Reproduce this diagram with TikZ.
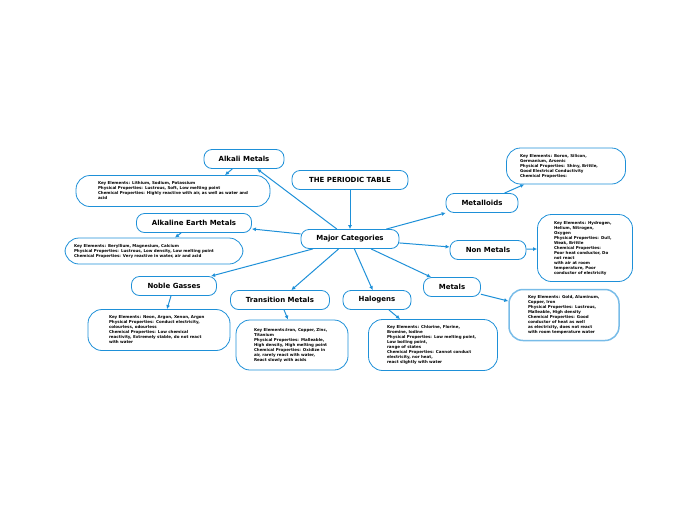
\documentclass[tikz,border=0pt]{standalone}
\usepackage{fontspec}
\setmainfont{DejaVu Sans}
\begin{document}
\begin{tikzpicture}[x=1pt,y=-1pt,
 cat/.style={draw=blue1,line width=0.8pt,rounded corners=8pt,fill=white,minimum height=19pt,font=\fontsize{7}{8}\selectfont\bfseries,inner sep=2pt},
 info/.style={draw=blue1,line width=0.8pt,rounded corners=14pt,fill=white,align=left,font=\fontsize{4}{5}\selectfont\bfseries,inner sep=2pt},
 arr/.style={draw=blue1,line width=1pt,-{Latex[length=4pt,width=4pt]}}]
\definecolor{blue1}{HTML}{1E90D8}
\usetikzlibrary{arrows.meta}
\useasboundingbox (0,0) rectangle (697,520);
\node[cat,minimum width=116pt] (title) at (350,180) {THE PERIODIC TABLE};
\node[cat,minimum width=98pt] (mc) at (350,239) {Major Categories};
\node[cat,minimum width=80pt] (alk) at (244,159) {Alkali Metals};
\node[cat,minimum width=115pt] (ae) at (194,223) {Alkaline Earth Metals};
\node[cat,minimum width=85pt] (ng) at (174,286) {Noble Gasses};
\node[cat,minimum width=99pt] (tm) at (280,300) {Transition Metals};
\node[cat,minimum width=68pt] (hal) at (377,300) {Halogens};
\node[cat,minimum width=57pt] (met) at (452,287) {Metals};
\node[cat,minimum width=76pt] (nm) at (488,250) {Non Metals};
\node[cat,minimum width=72pt] (mld) at (482,203) {Metalloids};
\node[info,minimum width=194pt,minimum height=31pt,text width=150pt] (alkb) at (173,191) {Key Elements: Lithium, Sodium, Potassium\\Physical Properties: Lustrous, Soft, Low melting point\\Chemical Properties: Highly reactive with air, as well as water and\\acid};
\node[info,minimum width=178pt,minimum height=26pt,text width=160pt] (aeb) at (154,251) {Key Elements: Beryllium, Magnesium, Calcium\\Physical Properties: Lustrous, Low density, Low melting point\\Chemical Properties: Very reactive in water, air and acid};
\node[info,minimum width=142pt,minimum height=41pt,text width=100pt] (ngb) at (159,330) {Key Elements: Neon, Argon, Xenon, Argon\\Physical Properties: Conduct electricity,\\colourless, odourless\\Chemical Properties: Low chemical\\reactivity, Extremely stable, do not react\\with water};
\node[info,minimum width=112pt,minimum height=50pt,text width=76pt] (tmb) at (292,345) {Key Elements:Iron, Copper, Zinc,\\Titanium\\Physical Properties: Malleable,\\High density, High melting point\\Chemical Properties: Oxidize in\\air, rarely react with water,\\React slowly with acids};
\node[info,minimum width=129pt,minimum height=51pt,text width=92pt] (halb) at (433,345) {Key Elements: Chlorine, Florine,\\Bromine, Iodine\\Physical Properties: Low melting point,\\Low boiling point,\\range of states\\Chemical Properties: Cannot conduct\\electricity, nor heat,\\react slightly with water};
\node[info,draw=blue1!60,line width=1.5pt,minimum width=110pt,minimum height=51pt,text width=72pt] (metb) at (564,315) {Key Elements: Gold, Aluminum,\\Copper, Iron\\Physical Properties: Lustrous,\\Malleable, High density\\Chemical Properties: Good\\conductor of heat as well\\as electricity, does not react\\with room temperature water};
\node[info,minimum width=95pt,minimum height=67pt,text width=62pt] (nmb) at (585,248) {Key Elements: Hydrogen,\\Helium, Nitrogen,\\Oxygen\\Physical Properties: Dull,\\Weak, Brittle\\Chemical Properties:\\Poor heat conductor, Do\\not react\\with air at room\\temperature, Poor\\conductor of electricity};
\node[info,minimum width=119pt,minimum height=36pt,text width=92pt] (mldb) at (566,166) {Key Elements: Boron, Silicon,\\Germanium, Arsenic\\Physical Properties: Shiny, Brittle,\\Good Electrical Conductivity\\Chemical Properties:};
\draw[arr] (title) -- (mc);
\draw[arr] (mc) -- (alk);
\draw[arr] (mc) -- (ae);
\draw[arr] (mc) -- (ng);
\draw[arr] (mc) -- (tm);
\draw[arr] (mc) -- (hal);
\draw[arr] (mc) -- (met);
\draw[arr] (mc) -- (nm);
\draw[arr] (mc) -- (mld);
\draw[arr] (alk) -- (alkb.north -| 225,0);
\draw[arr] (ae) -- (aeb.north -| 175,0);
\draw[arr] (ng) -- (ngb.north -| 167,0);
\draw[arr] (tm) -- (tmb.north -| 288,0);
\draw[arr] (hal) -- (halb.north -| 400,0);
\draw[arr] (met) -- (metb);
\draw[arr] (nm) -- (nmb);
\draw[arr] (mld) -- (mldb);
\end{tikzpicture}
\end{document}
